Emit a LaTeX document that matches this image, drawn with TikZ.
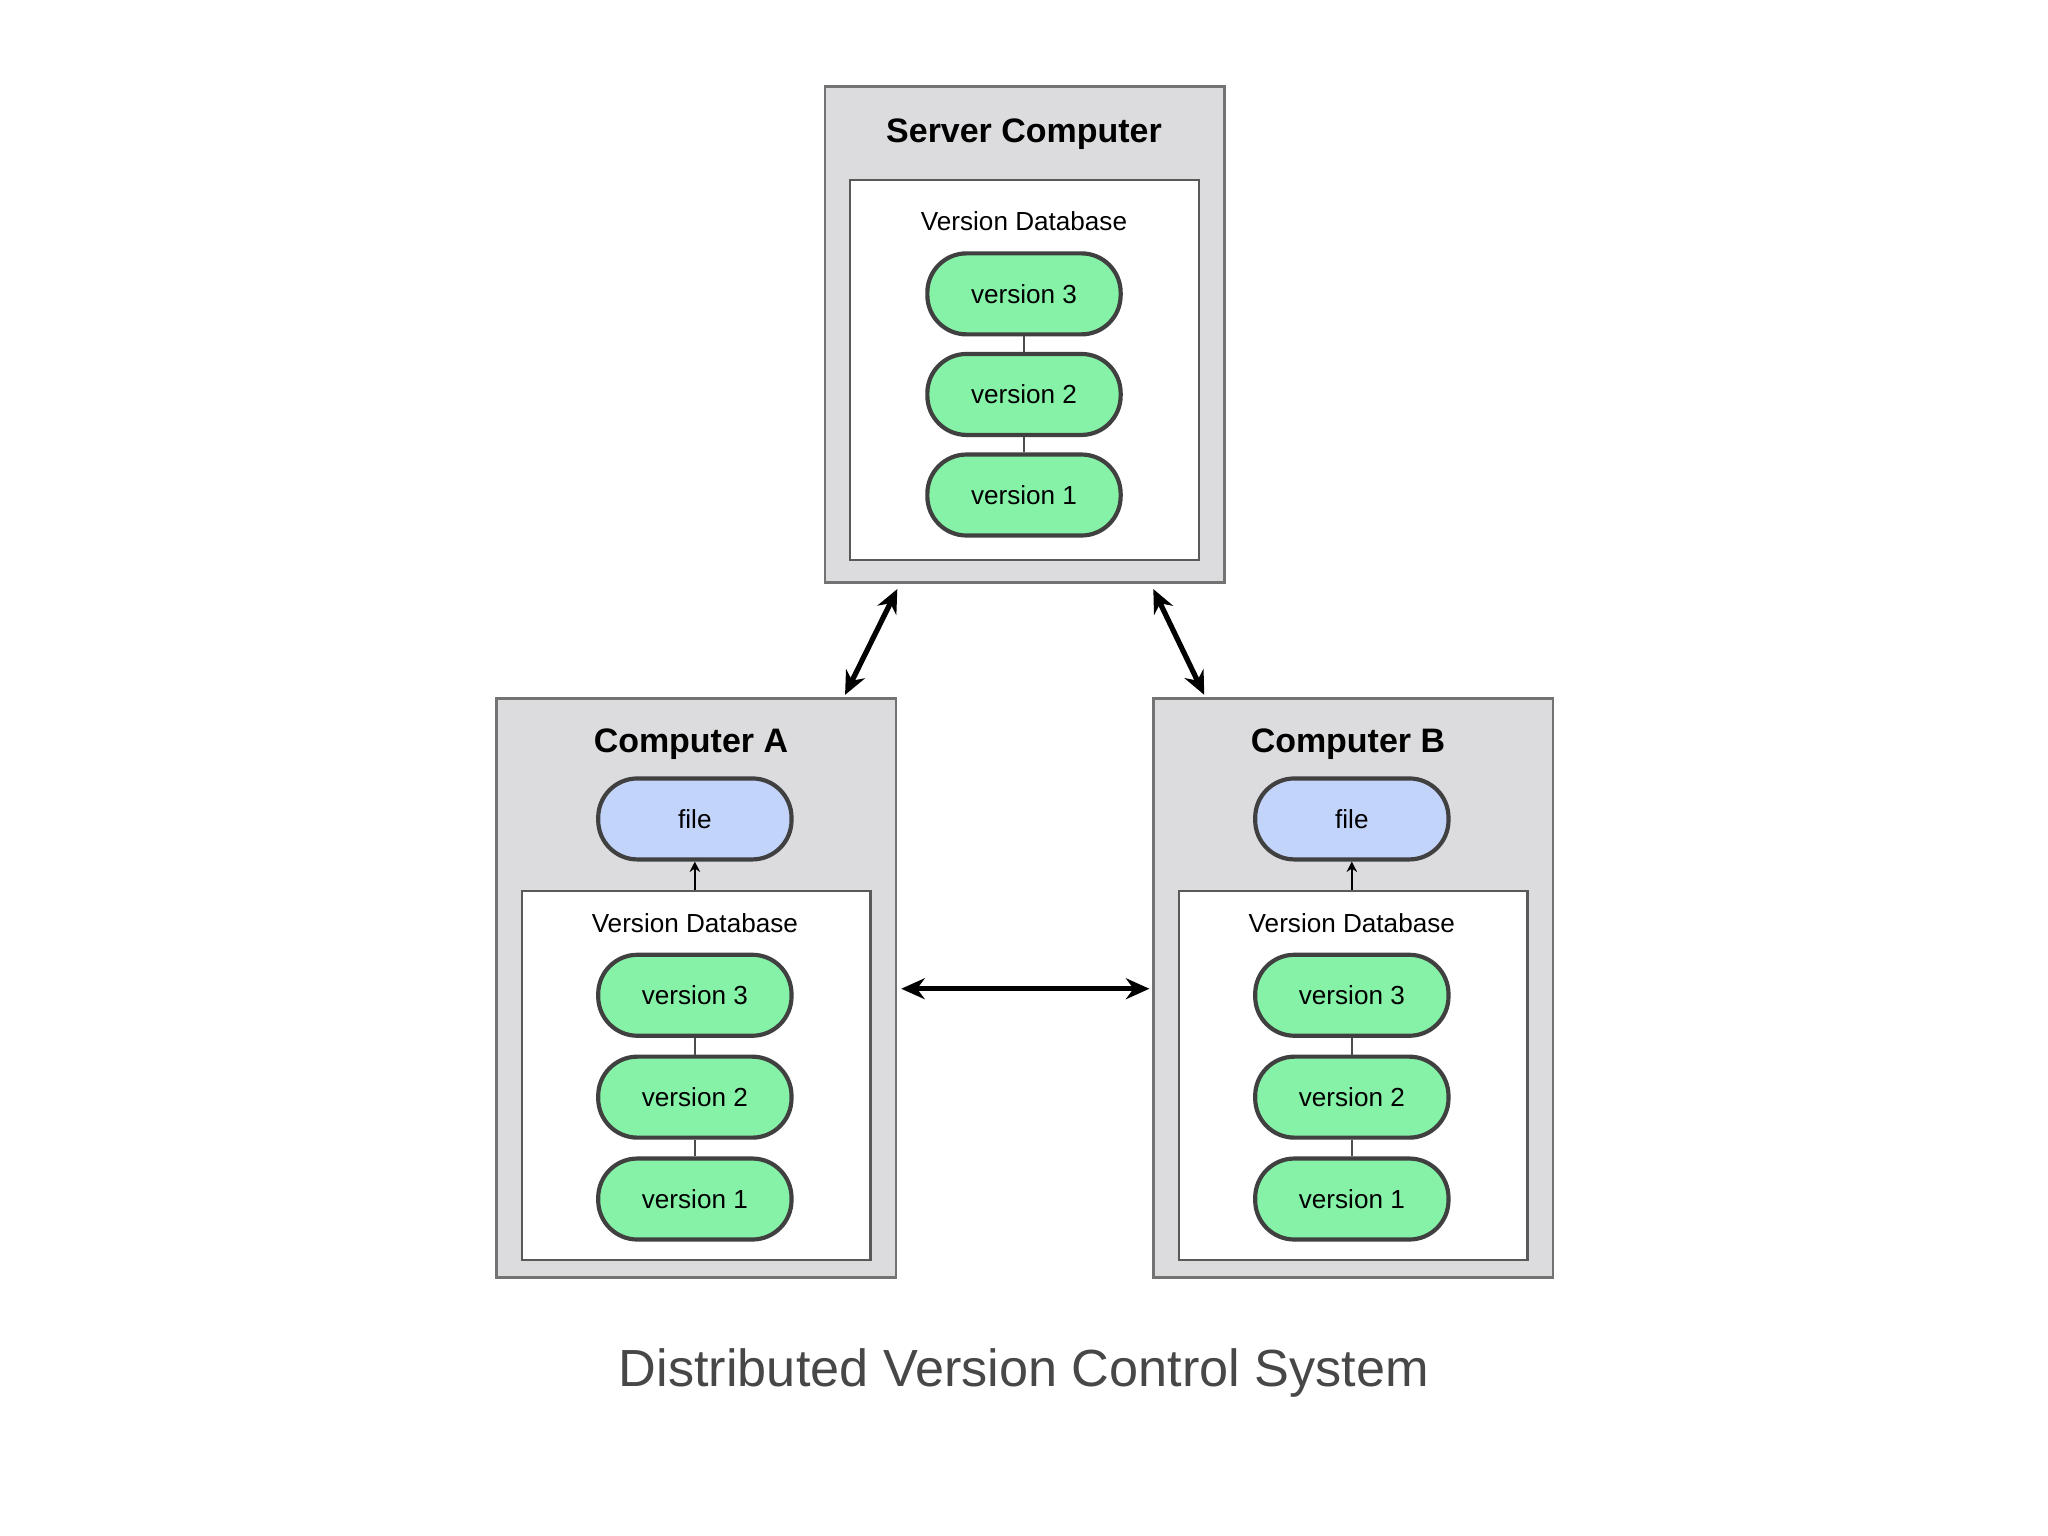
\documentclass[tikz,border=0pt]{standalone}
\usepackage{fontspec}
\setmainfont{Liberation Sans}
\usetikzlibrary{arrows.meta}
\definecolor{boxgray}{HTML}{DCDCDE}
\definecolor{vergreen}{HTML}{86F2A8}
\definecolor{fileblue}{HTML}{C2D4FA}
\tikzset{
  machine/.style={draw=black!55, fill=boxgray, line width=1pt, minimum width=153pt, inner sep=0pt},
  database/.style={draw=black!65, fill=white, line width=0.8pt, minimum width=133.5pt, inner sep=0pt},
  version/.style={draw=black!75, fill=vergreen, line width=1.6pt, rounded corners=15pt,
    minimum width=74pt, minimum height=31pt, font=\fontsize{10}{12}\selectfont},
  file/.style={version, fill=fileblue},
  title/.style={font=\bfseries\fontsize{13}{15}\selectfont},
  dblabel/.style={font=\fontsize{10}{12}\selectfont},
  link/.style={draw=black!70, line width=0.6pt},
  sync/.style={line width=2pt, {Stealth[length=9pt,width=8pt]}-{Stealth[length=9pt,width=8pt]}},
  fetch/.style={line width=0.8pt, -{Stealth[length=4pt,width=4pt]}}
}
\begin{document}
\begin{tikzpicture}[x=0.5pt, y=-0.5pt]
  \useasboundingbox (0,0) rectangle (1568,1176);

  % server
  \node [machine, minimum height=190pt] (server) at (784.5,256) {};
  \node [database, minimum height=145.5pt] (serverdb) at (784.5,283.5) {};
  \node [title] (servertitle) at (784,103) {Server Computer};
  \node [dblabel] (serverlabel) at (784,169) {Version Database};
  \foreach \n/\y in {3/225, 2/302, 1/379}
    \node [version] (s\n) at (784,\y) {version \n};
  \draw [link] (s3) -- (s2) (s2) -- (s1);

  % computers A and B
  \foreach \c/\x in {A/533, B/1036} {
    \node [machine, minimum height=221.5pt] (pc\c) at (\x,756.5) {};
    \node [database, minimum height=141.5pt] (db\c) at (\x,823.5) {};
    \node [title] (title\c) at (\x-4,570) {Computer \c};
    \node [file] (file\c) at (\x-1,627) {file};
    \node [dblabel] (label\c) at (\x-1,707) {Version Database};
    \foreach \n/\y in {3/762, 2/840, 1/918}
      \node [version] (\c\n) at (\x-1,\y) {version \n};
    \draw [link] (\c3) -- (\c2) (\c2) -- (\c1);
    \draw [fetch] (db\c.north -| file\c) -- (file\c);
  }

  % synchronisation
  \coordinate (sa) at (687,451);
  \coordinate (as) at (647,532);
  \coordinate (sb) at (883,451);
  \coordinate (bs) at (922,532);
  \coordinate (ab) at (690,757);
  \coordinate (ba) at (880,757);
  \draw [sync] (sa) -- (as);
  \draw [sync] (sb) -- (bs);
  \draw [sync] (ab) -- (ba);

  \node [text=black!72, font=\fontsize{20}{24}\selectfont] (caption) at (784,1051)
    {Distributed Version Control System};
\end{tikzpicture}
\end{document}
